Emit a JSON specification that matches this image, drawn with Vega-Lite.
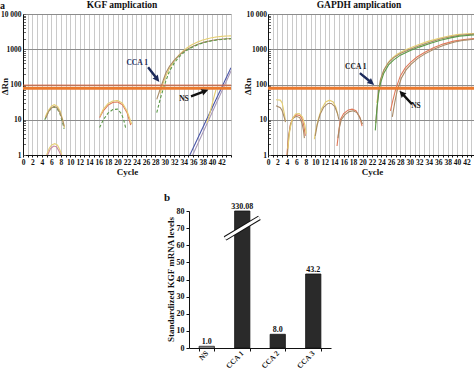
{
  "$schema": "https://vega.github.io/schema/vega-lite/v6.json",
  "padding": {"left": 0, "top": -1, "right": 0, "bottom": 0},
  "background": "white",
  "title": {"text": "a", "anchor": "start", "offset": -11, "fontSize": 10, "frame": "bounds", "dx": 0},
  "datasets": {
    "kgf": [
      {"curve":"k1","series":"K-yellow","cycle":29.0,"value":55},{"curve":"k1","series":"K-yellow","cycle":29.5,"value":95},{"curve":"k1","series":"K-yellow","cycle":30,"value":150},{"curve":"k1","series":"K-yellow","cycle":31,"value":290},{"curve":"k1","series":"K-yellow","cycle":32,"value":470},{"curve":"k1","series":"K-yellow","cycle":33,"value":690},{"curve":"k1","series":"K-yellow","cycle":34,"value":930},{"curve":"k1","series":"K-yellow","cycle":35,"value":1170},{"curve":"k1","series":"K-yellow","cycle":36,"value":1400},{"curve":"k1","series":"K-yellow","cycle":37,"value":1620},{"curve":"k1","series":"K-yellow","cycle":38,"value":1820},{"curve":"k1","series":"K-yellow","cycle":39,"value":1990},{"curve":"k1","series":"K-yellow","cycle":40,"value":2130},{"curve":"k1","series":"K-yellow","cycle":41,"value":2240},{"curve":"k1","series":"K-yellow","cycle":42,"value":2320},{"curve":"k1","series":"K-yellow","cycle":43,"value":2370},{"curve":"k1","series":"K-yellow","cycle":44,"value":2400},
      {"curve":"k2","series":"K-brown","cycle":28.3,"value":38},{"curve":"k2","series":"K-brown","cycle":28.7,"value":55},{"curve":"k2","series":"K-brown","cycle":29.1,"value":80},{"curve":"k2","series":"K-brown","cycle":29.6,"value":125},{"curve":"k2","series":"K-brown","cycle":30.2,"value":210},{"curve":"k2","series":"K-brown","cycle":31,"value":330},{"curve":"k2","series":"K-brown","cycle":32,"value":490},{"curve":"k2","series":"K-brown","cycle":33,"value":670},{"curve":"k2","series":"K-brown","cycle":34,"value":860},{"curve":"k2","series":"K-brown","cycle":35,"value":1040},{"curve":"k2","series":"K-brown","cycle":36,"value":1220},{"curve":"k2","series":"K-brown","cycle":37,"value":1390},{"curve":"k2","series":"K-brown","cycle":38,"value":1540},{"curve":"k2","series":"K-brown","cycle":39,"value":1670},{"curve":"k2","series":"K-brown","cycle":40,"value":1780},{"curve":"k2","series":"K-brown","cycle":41,"value":1870},{"curve":"k2","series":"K-brown","cycle":42,"value":1930},{"curve":"k2","series":"K-brown","cycle":43,"value":1980},{"curve":"k2","series":"K-brown","cycle":44,"value":2010},
      {"curve":"k3","series":"K-green","cycle":28.3,"value":16},{"curve":"k3","series":"K-green","cycle":28.7,"value":26},{"curve":"k3","series":"K-green","cycle":29.1,"value":42},{"curve":"k3","series":"K-green","cycle":29.6,"value":70},{"curve":"k3","series":"K-green","cycle":30.2,"value":125},{"curve":"k3","series":"K-green","cycle":31,"value":240},{"curve":"k3","series":"K-green","cycle":32,"value":410},{"curve":"k3","series":"K-green","cycle":33,"value":600},{"curve":"k3","series":"K-green","cycle":34,"value":800},{"curve":"k3","series":"K-green","cycle":35,"value":1000},{"curve":"k3","series":"K-green","cycle":36,"value":1180},{"curve":"k3","series":"K-green","cycle":37,"value":1350},{"curve":"k3","series":"K-green","cycle":38,"value":1500},{"curve":"k3","series":"K-green","cycle":39,"value":1630},{"curve":"k3","series":"K-green","cycle":40,"value":1740},{"curve":"k3","series":"K-green","cycle":41,"value":1830},{"curve":"k3","series":"K-green","cycle":42,"value":1900},{"curve":"k3","series":"K-green","cycle":43,"value":1950},{"curve":"k3","series":"K-green","cycle":44,"value":1990},
      {"curve":"k4","series":"K-blue","cycle":35.3,"value":1},{"curve":"k4","series":"K-blue","cycle":44,"value":300},
      {"curve":"k5","series":"K-lilac","cycle":35.9,"value":1},{"curve":"k5","series":"K-lilac","cycle":44,"value":240},
      {"curve":"k6","series":"K-yellow","cycle":38.9,"value":8},{"curve":"k6","series":"K-yellow","cycle":39.5,"value":15},{"curve":"k6","series":"K-yellow","cycle":40.2,"value":35},{"curve":"k6","series":"K-yellow","cycle":40.8,"value":70},
      {"curve":"k7","series":"K-green","cycle":4.6,"value":10},{"curve":"k7","series":"K-green","cycle":5.2,"value":15},{"curve":"k7","series":"K-green","cycle":5.8,"value":20},{"curve":"k7","series":"K-green","cycle":6.5,"value":23},{"curve":"k7","series":"K-green","cycle":7.2,"value":21},{"curve":"k7","series":"K-green","cycle":7.8,"value":15},{"curve":"k7","series":"K-green","cycle":8.3,"value":9},{"curve":"k7","series":"K-green","cycle":8.7,"value":5.5},
      {"curve":"k8","series":"K-yellow","cycle":4.7,"value":12},{"curve":"k8","series":"K-yellow","cycle":5.3,"value":18},{"curve":"k8","series":"K-yellow","cycle":6,"value":24},{"curve":"k8","series":"K-yellow","cycle":6.6,"value":27},{"curve":"k8","series":"K-yellow","cycle":7.3,"value":24},{"curve":"k8","series":"K-yellow","cycle":7.9,"value":17},{"curve":"k8","series":"K-yellow","cycle":8.4,"value":10},{"curve":"k8","series":"K-yellow","cycle":8.8,"value":6},
      {"curve":"k9","series":"K-brown","cycle":4.8,"value":11},{"curve":"k9","series":"K-brown","cycle":5.4,"value":17},{"curve":"k9","series":"K-brown","cycle":6,"value":21.5},{"curve":"k9","series":"K-brown","cycle":6.6,"value":24},{"curve":"k9","series":"K-brown","cycle":7.2,"value":22},{"curve":"k9","series":"K-brown","cycle":7.8,"value":16},{"curve":"k9","series":"K-brown","cycle":8.4,"value":9.5},{"curve":"k9","series":"K-brown","cycle":8.7,"value":6.5},
      {"curve":"k10","series":"K-red","cycle":16.2,"value":11.5},{"curve":"k10","series":"K-red","cycle":17,"value":18},{"curve":"k10","series":"K-red","cycle":18,"value":26},{"curve":"k10","series":"K-red","cycle":19,"value":31},{"curve":"k10","series":"K-red","cycle":20,"value":32},{"curve":"k10","series":"K-red","cycle":21,"value":27},{"curve":"k10","series":"K-red","cycle":22,"value":16},{"curve":"k10","series":"K-red","cycle":22.8,"value":7},
      {"curve":"k11","series":"K-yellow","cycle":16.3,"value":13},{"curve":"k11","series":"K-yellow","cycle":17,"value":20},{"curve":"k11","series":"K-yellow","cycle":18,"value":29},{"curve":"k11","series":"K-yellow","cycle":19,"value":34},{"curve":"k11","series":"K-yellow","cycle":20,"value":35},{"curve":"k11","series":"K-yellow","cycle":21,"value":30},{"curve":"k11","series":"K-yellow","cycle":22,"value":18},{"curve":"k11","series":"K-yellow","cycle":23,"value":7.5},
      {"curve":"k12","series":"K-green","cycle":16.2,"value":6},{"curve":"k12","series":"K-green","cycle":17,"value":10},{"curve":"k12","series":"K-green","cycle":18,"value":15.5},{"curve":"k12","series":"K-green","cycle":19,"value":19.5},{"curve":"k12","series":"K-green","cycle":20,"value":20},{"curve":"k12","series":"K-green","cycle":20.8,"value":15},{"curve":"k12","series":"K-green","cycle":21.3,"value":10},{"curve":"k12","series":"K-green","cycle":21.7,"value":6},
      {"curve":"k13","series":"K-yellow","cycle":5,"value":1},{"curve":"k13","series":"K-yellow","cycle":5.5,"value":1.5},{"curve":"k13","series":"K-yellow","cycle":6,"value":1.9},{"curve":"k13","series":"K-yellow","cycle":6.7,"value":2.1},{"curve":"k13","series":"K-yellow","cycle":7.3,"value":1.9},{"curve":"k13","series":"K-yellow","cycle":7.8,"value":1.4},{"curve":"k13","series":"K-yellow","cycle":8.2,"value":1},
      {"curve":"k14","series":"K-pink","cycle":5.2,"value":1},{"curve":"k14","series":"K-pink","cycle":5.8,"value":1.5},{"curve":"k14","series":"K-pink","cycle":6.5,"value":1.8},{"curve":"k14","series":"K-pink","cycle":7.1,"value":1.7},{"curve":"k14","series":"K-pink","cycle":7.6,"value":1.3},{"curve":"k14","series":"K-pink","cycle":8,"value":1}
    ],
    "gapdh": [
      {"curve":"g1","series":"G-yellow","cycle":23.0,"value":30},{"curve":"g1","series":"G-yellow","cycle":23.4,"value":60},{"curve":"g1","series":"G-yellow","cycle":23.8,"value":130},{"curve":"g1","series":"G-yellow","cycle":24.5,"value":250},{"curve":"g1","series":"G-yellow","cycle":25.2,"value":380},{"curve":"g1","series":"G-yellow","cycle":26,"value":520},{"curve":"g1","series":"G-yellow","cycle":27.3,"value":720},{"curve":"g1","series":"G-yellow","cycle":29,"value":950},{"curve":"g1","series":"G-yellow","cycle":31.5,"value":1300},{"curve":"g1","series":"G-yellow","cycle":34,"value":1700},{"curve":"g1","series":"G-yellow","cycle":36,"value":2000},{"curve":"g1","series":"G-yellow","cycle":38,"value":2350},{"curve":"g1","series":"G-yellow","cycle":40,"value":2600},{"curve":"g1","series":"G-yellow","cycle":42,"value":2750},{"curve":"g1","series":"G-yellow","cycle":44,"value":2800},
      {"curve":"g2","series":"G-purple","cycle":22.8,"value":8},{"curve":"g2","series":"G-purple","cycle":23.1,"value":25},{"curve":"g2","series":"G-purple","cycle":23.4,"value":70},{"curve":"g2","series":"G-purple","cycle":23.8,"value":140},{"curve":"g2","series":"G-purple","cycle":24.5,"value":260},{"curve":"g2","series":"G-purple","cycle":25.5,"value":420},{"curve":"g2","series":"G-purple","cycle":26.6,"value":580},{"curve":"g2","series":"G-purple","cycle":28,"value":760},{"curve":"g2","series":"G-purple","cycle":30.1,"value":1000},{"curve":"g2","series":"G-purple","cycle":32,"value":1250},{"curve":"g2","series":"G-purple","cycle":34.4,"value":1600},{"curve":"g2","series":"G-purple","cycle":36.5,"value":1950},{"curve":"g2","series":"G-purple","cycle":38.6,"value":2250},{"curve":"g2","series":"G-purple","cycle":40.5,"value":2500},{"curve":"g2","series":"G-purple","cycle":42.8,"value":2650},{"curve":"g2","series":"G-purple","cycle":44,"value":2700},
      {"curve":"g3","series":"G-blue","cycle":22.7,"value":5},{"curve":"g3","series":"G-blue","cycle":23.0,"value":18},{"curve":"g3","series":"G-blue","cycle":23.4,"value":55},{"curve":"g3","series":"G-blue","cycle":23.8,"value":110},{"curve":"g3","series":"G-blue","cycle":24.5,"value":210},{"curve":"g3","series":"G-blue","cycle":25.5,"value":360},{"curve":"g3","series":"G-blue","cycle":26.6,"value":500},{"curve":"g3","series":"G-blue","cycle":28,"value":680},{"curve":"g3","series":"G-blue","cycle":30.1,"value":920},{"curve":"g3","series":"G-blue","cycle":32,"value":1150},{"curve":"g3","series":"G-blue","cycle":34.4,"value":1480},{"curve":"g3","series":"G-blue","cycle":36.5,"value":1800},{"curve":"g3","series":"G-blue","cycle":38.6,"value":2100},{"curve":"g3","series":"G-blue","cycle":40.5,"value":2350},{"curve":"g3","series":"G-blue","cycle":42.8,"value":2500},{"curve":"g3","series":"G-blue","cycle":44,"value":2550},
      {"curve":"g4","series":"G-red","cycle":25.9,"value":18},{"curve":"g4","series":"G-red","cycle":26.4,"value":35},{"curve":"g4","series":"G-red","cycle":27,"value":73},{"curve":"g4","series":"G-red","cycle":28,"value":175},{"curve":"g4","series":"G-red","cycle":29,"value":290},{"curve":"g4","series":"G-red","cycle":30.1,"value":420},{"curve":"g4","series":"G-red","cycle":31.5,"value":600},{"curve":"g4","series":"G-red","cycle":33,"value":800},{"curve":"g4","series":"G-red","cycle":35,"value":1100},{"curve":"g4","series":"G-red","cycle":37,"value":1400},{"curve":"g4","series":"G-red","cycle":39.3,"value":1700},{"curve":"g4","series":"G-red","cycle":41.5,"value":1900},{"curve":"g4","series":"G-red","cycle":44,"value":2050},
      {"curve":"g5","series":"G-purple","cycle":26.3,"value":12},{"curve":"g5","series":"G-purple","cycle":26.8,"value":30},{"curve":"g5","series":"G-purple","cycle":27.3,"value":65},{"curve":"g5","series":"G-purple","cycle":28.2,"value":150},{"curve":"g5","series":"G-purple","cycle":29.2,"value":260},{"curve":"g5","series":"G-purple","cycle":30.3,"value":380},{"curve":"g5","series":"G-purple","cycle":31.7,"value":550},{"curve":"g5","series":"G-purple","cycle":33.2,"value":740},{"curve":"g5","series":"G-purple","cycle":35.2,"value":1020},{"curve":"g5","series":"G-purple","cycle":37.2,"value":1300},{"curve":"g5","series":"G-purple","cycle":39.5,"value":1600},{"curve":"g5","series":"G-purple","cycle":41.7,"value":1820},{"curve":"g5","series":"G-purple","cycle":44,"value":1950},
      {"curve":"g6","series":"G-yellow","cycle":1.7,"value":37},{"curve":"g6","series":"G-yellow","cycle":2.6,"value":36},{"curve":"g6","series":"G-yellow","cycle":3.0,"value":30},{"curve":"g6","series":"G-yellow","cycle":3.5,"value":14},{"curve":"g6","series":"G-yellow","cycle":3.7,"value":9},
      {"curve":"g7","series":"G-purple","cycle":1.7,"value":25},{"curve":"g7","series":"G-purple","cycle":2.6,"value":22},{"curve":"g7","series":"G-purple","cycle":3.0,"value":18},{"curve":"g7","series":"G-purple","cycle":3.5,"value":11},{"curve":"g7","series":"G-purple","cycle":3.7,"value":8.5},
      {"curve":"g8","series":"G-red","cycle":4.0,"value":1},{"curve":"g8","series":"G-red","cycle":4.3,"value":3},{"curve":"g8","series":"G-red","cycle":4.7,"value":7},{"curve":"g8","series":"G-red","cycle":5.2,"value":11},{"curve":"g8","series":"G-red","cycle":6,"value":14},{"curve":"g8","series":"G-red","cycle":6.8,"value":13},{"curve":"g8","series":"G-red","cycle":7.3,"value":10},{"curve":"g8","series":"G-red","cycle":7.6,"value":6.5},{"curve":"g8","series":"G-red","cycle":7.9,"value":3.5},
      {"curve":"g9","series":"G-purple","cycle":4.1,"value":1},{"curve":"g9","series":"G-purple","cycle":4.4,"value":3.5},{"curve":"g9","series":"G-purple","cycle":4.8,"value":7.5},{"curve":"g9","series":"G-purple","cycle":5.3,"value":11},{"curve":"g9","series":"G-purple","cycle":6,"value":12.5},{"curve":"g9","series":"G-purple","cycle":6.7,"value":11.5},{"curve":"g9","series":"G-purple","cycle":7.2,"value":8},{"curve":"g9","series":"G-purple","cycle":7.5,"value":5},{"curve":"g9","series":"G-purple","cycle":7.7,"value":3},
      {"curve":"g10","series":"G-yellow","cycle":4.2,"value":1.5},{"curve":"g10","series":"G-yellow","cycle":4.6,"value":5},{"curve":"g10","series":"G-yellow","cycle":5.1,"value":10},{"curve":"g10","series":"G-yellow","cycle":5.8,"value":14.5},{"curve":"g10","series":"G-yellow","cycle":6.6,"value":15},{"curve":"g10","series":"G-yellow","cycle":7.3,"value":12},{"curve":"g10","series":"G-yellow","cycle":7.8,"value":7},{"curve":"g10","series":"G-yellow","cycle":8.1,"value":4},
      {"curve":"g11","series":"G-yellow","cycle":9.8,"value":2.8},{"curve":"g11","series":"G-yellow","cycle":10.1,"value":5},{"curve":"g11","series":"G-yellow","cycle":10.6,"value":10},{"curve":"g11","series":"G-yellow","cycle":11.3,"value":20},{"curve":"g11","series":"G-yellow","cycle":12.2,"value":32},{"curve":"g11","series":"G-yellow","cycle":13,"value":36},{"curve":"g11","series":"G-yellow","cycle":13.8,"value":32},{"curve":"g11","series":"G-yellow","cycle":14.4,"value":22},{"curve":"g11","series":"G-yellow","cycle":14.8,"value":13},
      {"curve":"g12","series":"G-purple","cycle":10,"value":3.5},{"curve":"g12","series":"G-purple","cycle":10.4,"value":7},{"curve":"g12","series":"G-purple","cycle":11,"value":14},{"curve":"g12","series":"G-purple","cycle":11.8,"value":23},{"curve":"g12","series":"G-purple","cycle":12.7,"value":29},{"curve":"g12","series":"G-purple","cycle":13.4,"value":29},{"curve":"g12","series":"G-purple","cycle":14.1,"value":24},{"curve":"g12","series":"G-purple","cycle":14.7,"value":15},{"curve":"g12","series":"G-purple","cycle":15,"value":10},
      {"curve":"g13","series":"G-red","cycle":14.6,"value":1.8},{"curve":"g13","series":"G-red","cycle":14.9,"value":4},{"curve":"g13","series":"G-red","cycle":15.3,"value":10},{"curve":"g13","series":"G-red","cycle":16,"value":15},{"curve":"g13","series":"G-red","cycle":17,"value":19},{"curve":"g13","series":"G-red","cycle":17.8,"value":20},{"curve":"g13","series":"G-red","cycle":18.6,"value":18},{"curve":"g13","series":"G-red","cycle":19.4,"value":12},{"curve":"g13","series":"G-red","cycle":19.9,"value":6.6},
      {"curve":"g14","series":"G-purple","cycle":14.8,"value":3},{"curve":"g14","series":"G-purple","cycle":15.1,"value":6},{"curve":"g14","series":"G-purple","cycle":15.5,"value":10},{"curve":"g14","series":"G-purple","cycle":16.3,"value":14},{"curve":"g14","series":"G-purple","cycle":17.2,"value":17},{"curve":"g14","series":"G-purple","cycle":18,"value":18},{"curve":"g14","series":"G-purple","cycle":18.8,"value":16},{"curve":"g14","series":"G-purple","cycle":19.5,"value":11},{"curve":"g14","series":"G-purple","cycle":20,"value":7.5}
    ],
    "bars": [
      {"cat":"NS","value":1.0,"label":"1.0"},
      {"cat":"CCA 1","value":330.08,"label":"330.08"},
      {"cat":"CCA 2","value":8.0,"label":"8.0"},
      {"cat":"CCA 3","value":43.2,"label":"43.2"}
    ]
  },
  "spacing": 15,
  "vconcat": [
    {
      "hconcat": [
        {
          "width": 208, "height": 141,
          "title": {"text": "KGF amplication", "fontSize": 9.5, "dx": -5, "offset": 1},
          "encoding": {
            "x": {"field": "cycle", "type": "quantitative", "scale": {"domain": [0, 44], "nice": false, "zero": false},
              "axis": {"values": [0,1,2,3,4,5,6,7,8,9,10,11,12,13,14,15,16,17,18,19,20,21,22,23,24,25,26,27,28,29,30,31,32,33,34,35,36,37,38,39,40,41,42,43,44],
                "labelExpr": "datum.value % 2 === 0 && datum.value <= 42 ? datum.value : ''",
                "grid": true, "gridColor": "#bdbdbd", "gridWidth": 0.8, "tickSize": 2, "labelFontSize": 7.5, "labelPadding": 1,
                "labelOverlap": false, "labelFlush": false, "labelBound": false, "title": "Cycle", "titleFontSize": 9, "titlePadding": 2}},
            "y": {"field": "value", "type": "quantitative", "scale": {"type": "log", "domain": [1, 10000], "nice": false},
              "axis": {"values": [1,2,3,4,5,6,7,8,9,10,20,30,40,50,60,70,80,90,100,200,300,400,500,600,700,800,900,1000,2000,3000,4000,5000,6000,7000,8000,9000,10000],
                "labelExpr": "datum.value === 10000 ? '10 000' : (indexof([1,10,100,1000], datum.value) >= 0 ? format(datum.value, 'd') : '')",
                "grid": true, "gridColor": "#8c8c8c", "gridWidth": 1,
                "gridOpacity": {"condition": {"test": "indexof([1,10,100,1000,10000], datum.value) >= 0", "value": 1}, "value": 0},
                "ticks": true, "tickSize": -2.5, "tickColor": "#666", "labelPadding": 4.5, "labelFontSize": 7.5, "labelOverlap": false,
                "title": "ΔRn", "titleFontSize": 9, "titleX": -23, "titleY": 72, "titleAngle": -90, "titleBaseline": "top", "titleAlign": "center"}}
          },
          "layer": [
            {
              "data": {"name": "kgf"},
              "mark": {"type": "line", "strokeWidth": 1.1, "clip": true},
              "encoding": {
                "color": {"field": "series", "type": "nominal", "legend": null,
                  "scale": {"domain": ["K-yellow","K-brown","K-green","K-red","K-pink","K-blue","K-lilac"],
                            "range": ["#e6cf72","#a88a66","#5c9a48","#e07a5a","#c88aa0","#4a56a8","#a898b8"]}},
                "strokeDash": {"field": "series", "type": "nominal", "legend": null,
                  "scale": {"domain": ["K-yellow","K-brown","K-green","K-red","K-pink","K-blue","K-lilac"],
                            "range": [[1,0],[1,0],[3,2],[1,0],[1,0],[1,0],[1,0]]}},
                "detail": {"field": "curve"}
              }
            },
            {"data": {"values": [{"cycle": 0, "value": 96}, {"cycle": 44, "value": 96}]},
              "mark": {"type": "line", "color": "#d8643c", "strokeWidth": 1}, "encoding": {}},
            {"data": {"values": [{"cycle": 0, "value": 78}, {"cycle": 44, "value": 78}]},
              "mark": {"type": "line", "color": "#eb7a2e", "strokeWidth": 3}, "encoding": {}},
            {"data": {"values": [{"cycle": 24.15, "value": 405, "label": "CCA 1"}]},
              "mark": {"type": "text", "fontSize": 7.5, "fontWeight": "bold", "color": "#1c2a5a"},
              "encoding": {"text": {"field": "label"}}},
            {"data": {"values": [{"cycle": 27.65, "value": 191}]},
              "mark": {"type": "point", "shape": "M-1,-0.13L0.3,-0.13L0.25,-0.36L1,0L0.25,0.36L0.3,0.13L-1,0.13Z", "size": 342, "angle": 52.6, "filled": true, "color": "#1c2a5a", "opacity": 1}},
            {"data": {"values": [{"cycle": 34.05, "value": 38.5, "label": "NS"}]},
              "mark": {"type": "text", "fontSize": 7.5, "fontWeight": "bold", "color": "#111"},
              "encoding": {"text": {"field": "label"}}},
            {"data": {"values": [{"cycle": 37.37, "value": 57}]},
              "mark": {"type": "point", "shape": "M-1,-0.13L0.3,-0.13L0.25,-0.36L1,0L0.25,0.36L0.3,0.13L-1,0.13Z", "size": 342, "angle": -20.9, "filled": true, "color": "#111", "opacity": 1}}
          ]
        },
        {
          "width": 208, "height": 141,
          "title": {"text": "GAPDH amplication", "fontSize": 9.5, "dx": -13, "offset": 1},
          "encoding": {
            "x": {"field": "cycle", "type": "quantitative", "scale": {"domain": [0, 44], "nice": false, "zero": false},
              "axis": {"values": [0,1,2,3,4,5,6,7,8,9,10,11,12,13,14,15,16,17,18,19,20,21,22,23,24,25,26,27,28,29,30,31,32,33,34,35,36,37,38,39,40,41,42,43,44],
                "labelExpr": "datum.value % 2 === 0 && datum.value <= 42 ? datum.value : ''",
                "grid": true, "gridColor": "#bdbdbd", "gridWidth": 0.8, "tickSize": 2, "labelFontSize": 7.5, "labelPadding": 1,
                "labelOverlap": false, "labelFlush": false, "labelBound": false, "title": "Cycle", "titleFontSize": 9, "titlePadding": 2}},
            "y": {"field": "value", "type": "quantitative", "scale": {"type": "log", "domain": [1, 10000], "nice": false},
              "axis": {"values": [1,2,3,4,5,6,7,8,9,10,20,30,40,50,60,70,80,90,100,200,300,400,500,600,700,800,900,1000,2000,3000,4000,5000,6000,7000,8000,9000,10000],
                "labelExpr": "datum.value === 10000 ? '10 000' : (indexof([1,10,100,1000], datum.value) >= 0 ? format(datum.value, 'd') : '')",
                "grid": true, "gridColor": "#8c8c8c", "gridWidth": 1,
                "gridOpacity": {"condition": {"test": "indexof([1,10,100,1000,10000], datum.value) >= 0", "value": 1}, "value": 0},
                "ticks": true, "tickSize": -2.5, "tickColor": "#666", "labelPadding": 4, "labelFontSize": 7.5, "labelOverlap": false,
                "title": "ΔRn", "titleFontSize": 9, "titleX": -25, "titleY": 72, "titleAngle": -90, "titleBaseline": "top", "titleAlign": "center"}}
          },
          "layer": [
            {
              "data": {"name": "gapdh"},
              "mark": {"type": "line", "strokeWidth": 1.1, "clip": true},
              "encoding": {
                "color": {"field": "series", "type": "nominal", "legend": null,
                  "scale": {"domain": ["G-yellow","G-purple","G-blue","G-red"],
                            "range": ["#e6cf6a","#7a5a9c","#5a72b0","#c45a78"]}},
                "detail": {"field": "curve"}
              }
            },
            {"data": {"values": [{"cycle": 0, "value": 78}, {"cycle": 44, "value": 78}]},
              "mark": {"type": "line", "color": "#eb7a2e", "strokeWidth": 3}, "encoding": {}},
            {"data": {"values": [{"cycle": 18.58, "value": 306, "label": "CCA 1"}]},
              "mark": {"type": "text", "fontSize": 7.5, "fontWeight": "bold", "color": "#111"},
              "encoding": {"text": {"field": "label"}}},
            {"data": {"values": [{"cycle": 20.95, "value": 143}]},
              "mark": {"type": "point", "shape": "M-1,-0.13L0.3,-0.13L0.25,-0.36L1,0L0.25,0.36L0.3,0.13L-1,0.13Z", "size": 342, "angle": 39.3, "filled": true, "color": "#1c2a5a", "opacity": 1}},
            {"data": {"values": [{"cycle": 31.3, "value": 24.3, "label": "NS"}]},
              "mark": {"type": "text", "fontSize": 7.5, "fontWeight": "bold", "color": "#111"},
              "encoding": {"text": {"field": "label"}}},
            {"data": {"values": [{"cycle": 29.13, "value": 42.9}]},
              "mark": {"type": "point", "shape": "M-1,-0.13L0.3,-0.13L0.25,-0.36L1,0L0.25,0.36L0.3,0.13L-1,0.13Z", "size": 342, "angle": -133, "filled": true, "color": "#111", "opacity": 1}}
          ]
        }
      ],
      "spacing": 37,
      "bounds": "flush"
    },
    {
      "hconcat": [
        {
          "width": 146, "height": 137,
          "data": {"values": []},
          "mark": "point",
          "encoding": {}
        },
        {
          "width": 142, "height": 137,
          "title": {"text": "b", "anchor": "start", "frame": "group", "fontSize": 11, "dx": -25, "offset": 0},
          "data": {"name": "bars"},
          "encoding": {
            "x": {"field": "cat", "type": "nominal", "sort": null,
              "scale": {"paddingInner": 0.57, "paddingOuter": 0.285},
              "axis": {"title": null, "labelAngle": -45, "labelAlign": "right", "labelBaseline": "middle", "labelFontSize": 7.5, "labelPadding": 1,
                       "tickBand": "extent", "tickSize": 3, "domainColor": "#111", "tickColor": "#111"}},
            "y": {"field": "value", "type": "quantitative",
              "scale": {"domain": [0, 80], "clamp": true, "nice": false},
              "axis": {"values": [0,10,20,30,40,50,60,70,80], "grid": false, "tickSize": 3, "labelFontSize": 8, "labelPadding": 2,
                       "title": "Standardized KGF mRNA levels", "titleFontSize": 9, "titleX": -14, "titleAngle": -90, "titleBaseline": "bottom", "titleAlign": "center", "titleY": 68}}
          },
          "layer": [
            {"mark": {"type": "bar", "stroke": "#111", "strokeWidth": 0.8},
              "encoding": {"color": {"condition": {"test": "datum.cat === 'NS'", "value": "#c8c8c8"}, "value": "#2a2a2a"}}},
            {"mark": {"type": "text", "dy": -2, "baseline": "alphabetic", "fontSize": 8, "fontWeight": "bold", "color": "#111"},
              "encoding": {"text": {"field": "label"}}},
            {"data": {"values": [{"cat": "CCA 1", "value": 70}]},
              "mark": {"type": "point", "shape": "M-1,0.6L1,-0.6", "size": 1180, "filled": false, "stroke": "#111", "strokeWidth": 5, "opacity": 1}},
            {"data": {"values": [{"cat": "CCA 1", "value": 70}]},
              "mark": {"type": "point", "shape": "M-1,0.6L1,-0.6", "size": 1180, "filled": false, "stroke": "white", "strokeWidth": 3, "opacity": 1}}
          ]
        }
      ],
      "spacing": 20,
      "bounds": "flush"
    }
  ],
  "config": {
    "view": {"stroke": null},
    "font": "Liberation Serif",
    "text": {"font": "Liberation Serif"},
    "axis": {"labelFont": "Liberation Serif", "titleFont": "Liberation Serif", "labelFontWeight": "bold", "titleFontWeight": "bold",
             "labelColor": "#111", "titleColor": "#111", "domainColor": "#111", "tickColor": "#111"},
    "title": {"font": "Liberation Serif", "fontWeight": "bold", "color": "#111"}
  }
}
